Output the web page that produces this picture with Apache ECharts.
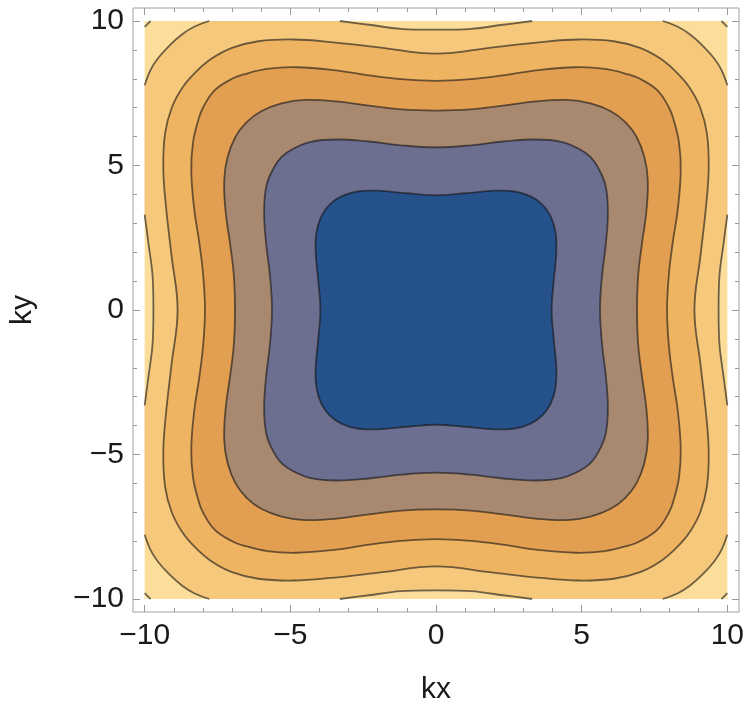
<!DOCTYPE html>
<html>
<head>
<meta charset="utf-8">
<script src="https://cdn.jsdelivr.net/npm/echarts@6/dist/echarts.min.js"></script>
<style>
  html, body { margin: 0; padding: 0; background: #fff; }
  #chart { width: 750px; height: 716px; }
</style>
</head>
<body>
<div id="chart"></div>
<script>
// plot range of the contour plot
const domain = [-10, 10]

// closed contours, read in the first quadrant only (kx >= 0, ky >= 0),
// going clockwise from the ky axis down to the kx axis. level1 is the innermost
const level1 = [[0, 3.97], [1, 4.04], [2, 4.13], [2.7, 4.1], [3.25, 3.93], [3.65, 3.65],
  [3.93, 3.25], [4.1, 2.7], [4.13, 2], [4.04, 1], [3.97, 0]]
const level2 = [[0, 5.63], [1.2, 5.7], [2.3, 5.83], [3.4, 5.9], [4.3, 5.82], [4.9, 5.58], [5.3, 5.3],
  [5.58, 4.9], [5.82, 4.3], [5.9, 3.4], [5.83, 2.3], [5.7, 1.2], [5.63, 0]]
const level3 = [[0, 6.9], [1.2, 6.94], [2.3, 7.07], [3.4, 7.22], [4.5, 7.27], [5.3, 7.15], [6.0, 6.88], [6.5, 6.5],
  [6.88, 6.0], [7.15, 5.3], [7.27, 4.5], [7.22, 3.4], [7.07, 2.3], [6.94, 1.2], [6.9, 0]]
const level4 = [[0, 7.93], [1.2, 7.99], [2.3, 8.12], [3.5, 8.3], [4.8, 8.4], [5.8, 8.34], [6.6, 8.15], [7.0, 8.0],
  [7.6, 7.6], [8.0, 7.0], [8.15, 6.6], [8.34, 5.8], [8.4, 4.8], [8.3, 3.5], [8.12, 2.3], [7.99, 1.2], [7.93, 0]]
const level5 = [[0, 8.87], [1.9, 9.08], [3.6, 9.27], [4.9, 9.36], [6.1, 9.3], [7.0, 9.07], [7.7, 8.7], [8.24, 8.24],
  [8.7, 7.7], [9.07, 7.0], [9.3, 6.1], [9.36, 4.9], [9.27, 3.6], [9.08, 1.9], [8.87, 0]]

// level 6 is open: one piece near the middle of each edge, one arc in each corner
const edgeLine = [[0, 9.7], [1.2, 9.73], [2.3, 9.87], [3.3, 10]]
const cornerArc = [[7.78, 10], [8.3, 9.8], [8.7, 9.55], [9.15, 9.15], [9.55, 8.7], [9.8, 8.3], [10, 7.78]]
// level 7, the little tip in each corner
const cornerTip = [[9.8, 10], [10, 9.8]]

// fill of each band, from the centre outwards
const bandColors = ['#26528b', '#6d6f90', '#a8886f', '#e39f51', '#eeb462', '#f6c87c', '#fcde9a', '#fee8b0']
const lineColor = 'rgba(20, 20, 20, 0.6)'

const minorTicks = [-10, -9, -8, -7, -6, -5, -4, -3, -2, -1, 0, 1, 2, 3, 4, 5, 6, 7, 8, 9, 10]
const majorTicks = [-10, -5, 0, 5, 10]

const fmt = v => v < 0 ? '\u2212' + (-v) : String(v)

// quarter -> full loop by mirroring about both axes
const fullLoop = q => {
  const q4 = q.slice().reverse().map(([x, y]) => [x, -y])
  const q3 = q.map(([x, y]) => [-x, -y])
  const q2 = q.slice().reverse().map(([x, y]) => [-x, y])
  return [...q, ...q4.slice(1), ...q3.slice(1), ...q2.slice(1, -1)]
}

const swapped = pts => pts.map(([x, y]) => [y, x])
const level6Quarter = [...edgeLine, ...cornerArc, ...swapped(edgeLine).reverse()]
const edgeFull = [...edgeLine.slice(1).reverse().map(([x, y]) => [-x, y]), ...edgeLine]
const edgeTransforms = [
  ([x, y]) => [x, y],
  ([x, y]) => [y, x],
  ([x, y]) => [x, -y],
  ([x, y]) => [-y, x]
]
const signs = [[1, 1], [1, -1], [-1, -1], [-1, 1]]

const closedLevels = [level5, level4, level3, level2, level1]

const renderContours = (params, api) => {
  const px = pts => pts.map(p => api.coord(p))
  const [lo, hi] = domain
  const a = api.coord([lo, hi])
  const b = api.coord([hi, lo])
  // keep smoothed curves inside the plotted square
  const box = [[Math.min(a[0], b[0]), Math.min(a[1], b[1])], [Math.max(a[0], b[0]), Math.max(a[1], b[1])]]
  const stroke = { stroke: lineColor, lineWidth: 1.8, fill: null }
  const children = []

  children.push({
    type: 'polygon',
    shape: { points: px([[lo, lo], [hi, lo], [hi, hi], [lo, hi]]) },
    style: { fill: bandColors[6] }
  })

  signs.forEach(([sx, sy]) => {
    const tip = cornerTip.map(([x, y]) => [sx * x, sy * y])
    children.push({
      type: 'polygon',
      shape: { points: px([...tip, [sx * hi, sy * hi]]) },
      style: { fill: bandColors[7] }
    })
    children.push({ type: 'polyline', shape: { points: px(tip) }, style: stroke })
  })

  children.push({
    type: 'polygon',
    shape: { points: px(fullLoop(level6Quarter)), smooth: 0.35, smoothConstraint: box },
    style: { fill: bandColors[5] }
  })
  edgeTransforms.forEach(t => {
    children.push({
      type: 'polyline',
      shape: { points: px(edgeFull.map(p => t(p))), smooth: 0.35, smoothConstraint: box },
      style: stroke
    })
  })
  signs.forEach(([sx, sy]) => {
    children.push({
      type: 'polyline',
      shape: { points: px(cornerArc.map(([x, y]) => [sx * x, sy * y])), smooth: 0.35, smoothConstraint: box },
      style: stroke
    })
  })

  closedLevels.forEach((q, i) => {
    children.push({
      type: 'polygon',
      shape: { points: px(fullLoop(q)), smooth: 0.4 },
      style: { fill: bandColors[4 - i], stroke: lineColor, lineWidth: 1.8 }
    })
  })

  return { type: 'group', children }
}

const axisFont = { fontFamily: 'Liberation Sans, Arial, sans-serif', fontSize: 30, color: '#1a1a1a' }
const tickColor = '#9a9a9a'

const makeAxis = (position, ticks, length, labels) => ({
  type: 'value',
  position,
  min: -10.4,
  max: 10.4,
  axisLine: { show: false, onZero: false },
  splitLine: { show: false },
  axisTick: { show: true, inside: true, length, customValues: ticks, lineStyle: { color: tickColor, width: 1 } },
  axisLabel: labels
    ? { show: true, customValues: majorTicks, formatter: fmt, margin: 9, ...axisFont }
    : { show: false }
})

const xMain = makeAxis('bottom', majorTicks, 7, true)
xMain.name = 'kx'
xMain.nameLocation = 'middle'
xMain.nameGap = 63
xMain.nameTextStyle = axisFont

const yMain = makeAxis('left', majorTicks, 7, true)
yMain.name = 'ky'
yMain.nameLocation = 'middle'
yMain.nameGap = 95
yMain.nameTextStyle = axisFont

const yAxes = [yMain, makeAxis('left', minorTicks, 4, false), makeAxis('right', majorTicks, 7, false),
  makeAxis('right', minorTicks, 4, false)]
yAxes.forEach(ax => { ax.min = -10.45; ax.max = 10.45 })

const chart = echarts.init(document.getElementById('chart'))
chart.setOption({
  animation: false,
  backgroundColor: '#fff',
  grid: {
    left: 133,
    top: 8,
    width: 606,
    height: 604,
    show: true,
    borderColor: '#a0a0a0',
    borderWidth: 1,
    backgroundColor: 'transparent'
  },
  xAxis: [xMain, makeAxis('bottom', minorTicks, 4, false), makeAxis('top', majorTicks, 7, false),
    makeAxis('top', minorTicks, 4, false)],
  yAxis: yAxes,
  series: [{
    type: 'custom',
    coordinateSystem: 'cartesian2d',
    xAxisIndex: 0,
    yAxisIndex: 0,
    clip: false,
    silent: true,
    data: [[0, 0]],
    renderItem: renderContours
  }]
})
</script>
</body>
</html>
